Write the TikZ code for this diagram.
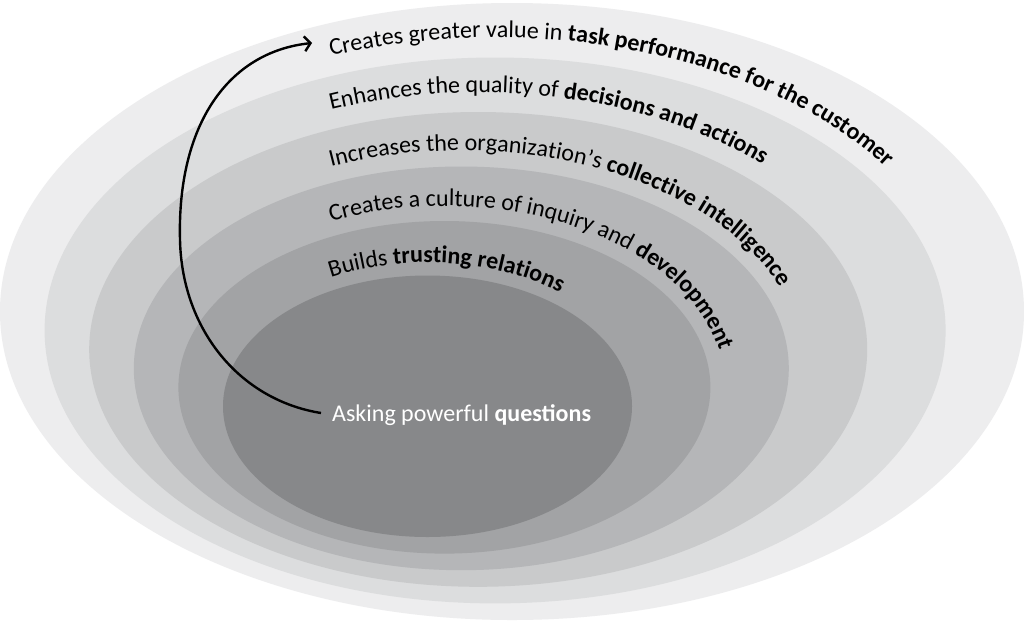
\documentclass[tikz,border=0pt]{standalone}
\usepackage{fontspec}
\setmainfont{Carlito}
\usetikzlibrary{decorations.text,arrows.meta}
\definecolor{ringA}{HTML}{EDEDEE}
\definecolor{ringB}{HTML}{DCDDDE}
\definecolor{ringC}{HTML}{C9CACB}
\definecolor{ringD}{HTML}{B5B6B8}
\definecolor{ringE}{HTML}{A2A3A5}
\definecolor{ringF}{HTML}{87888A}
\tikzset{
  flowarrow/.style={line width=2.4pt, black, -{Straight Barb[length=6pt,width=15pt]}},
  coretext/.style={anchor=base west, inner sep=0pt, text=white}
}
% ring t: centre (512-16.9t, 311.5+18.95t), radii (512-61.5t, 308.5-35.55t)
\newcommand\ringparams[1]{%
  \pgfmathsetmacro\rtCx{512-16.9*#1}%
  \pgfmathsetmacro\rtCy{311.5+18.95*#1}%
  \pgfmathsetmacro\rtA{512-61.5*#1}%
  \pgfmathsetmacro\rtB{308.5-35.55*#1}%
}
\newcommand\ringellipse[2]{%
  \ringparams{#1}%
  \fill[#2] (\rtCx,-\rtCy) ellipse[x radius=\rtA pt, y radius=\rtB pt];
}
% #1 = ring below the text, #2 = offset outward, #3 = text
\newcommand\ringtext[3]{%
  \ringparams{#1}%
  \pgfmathsetmacro\rtA{\rtA+#2}%
  \pgfmathsetmacro\rtB{\rtB+#2}%
  \pgfmathsetmacro\rtT{acos((331-\rtCx)/\rtA)}%
  \path[decorate,decoration={text along path,text={#3}}]
    ({\rtCx+\rtA*cos(\rtT)},{-\rtCy+\rtB*sin(\rtT)})
    arc[start angle=\rtT,end angle=-40,x radius=\rtA pt,y radius=\rtB pt];
}
\begin{document}
\begin{tikzpicture}[x=1pt,y=1pt]
\fontsize{24}{28}\selectfont
\fill[white] (0,0) rectangle (1024,-622);
\useasboundingbox (0,0) rectangle (1024,-622);
\ringellipse{0}{ringA}
\ringellipse{1}{ringB}
\ringellipse{2}{ringC}
\ringellipse{3}{ringD}
\ringellipse{4}{ringE}
\ringellipse{5}{ringF}
\ringtext{1}{20}{Creates greater value in |\bfseries|task performance for the customer}
\ringtext{2}{19.5}{Enhances the quality of |\bfseries|decisions and actions}
\ringtext{3}{16}{Increases the organization’s |\bfseries|collective intelligence}
\ringtext{4}{15}{Creates a culture of inquiry and |\bfseries|development}
\ringtext{5}{13}{Builds |\bfseries|trusting relations}
\node[coretext] (q) at (332,-421) {Asking powerful \textbf{questions}};
\coordinate (qs) at (321,-413);
\coordinate (top) at (312,-43);
\draw[flowarrow] (qs) .. controls (240,-400) and (182,-330) .. (180,-240)
  .. controls (177,-125) and (228,-52) .. (top);
\end{tikzpicture}
\end{document}
